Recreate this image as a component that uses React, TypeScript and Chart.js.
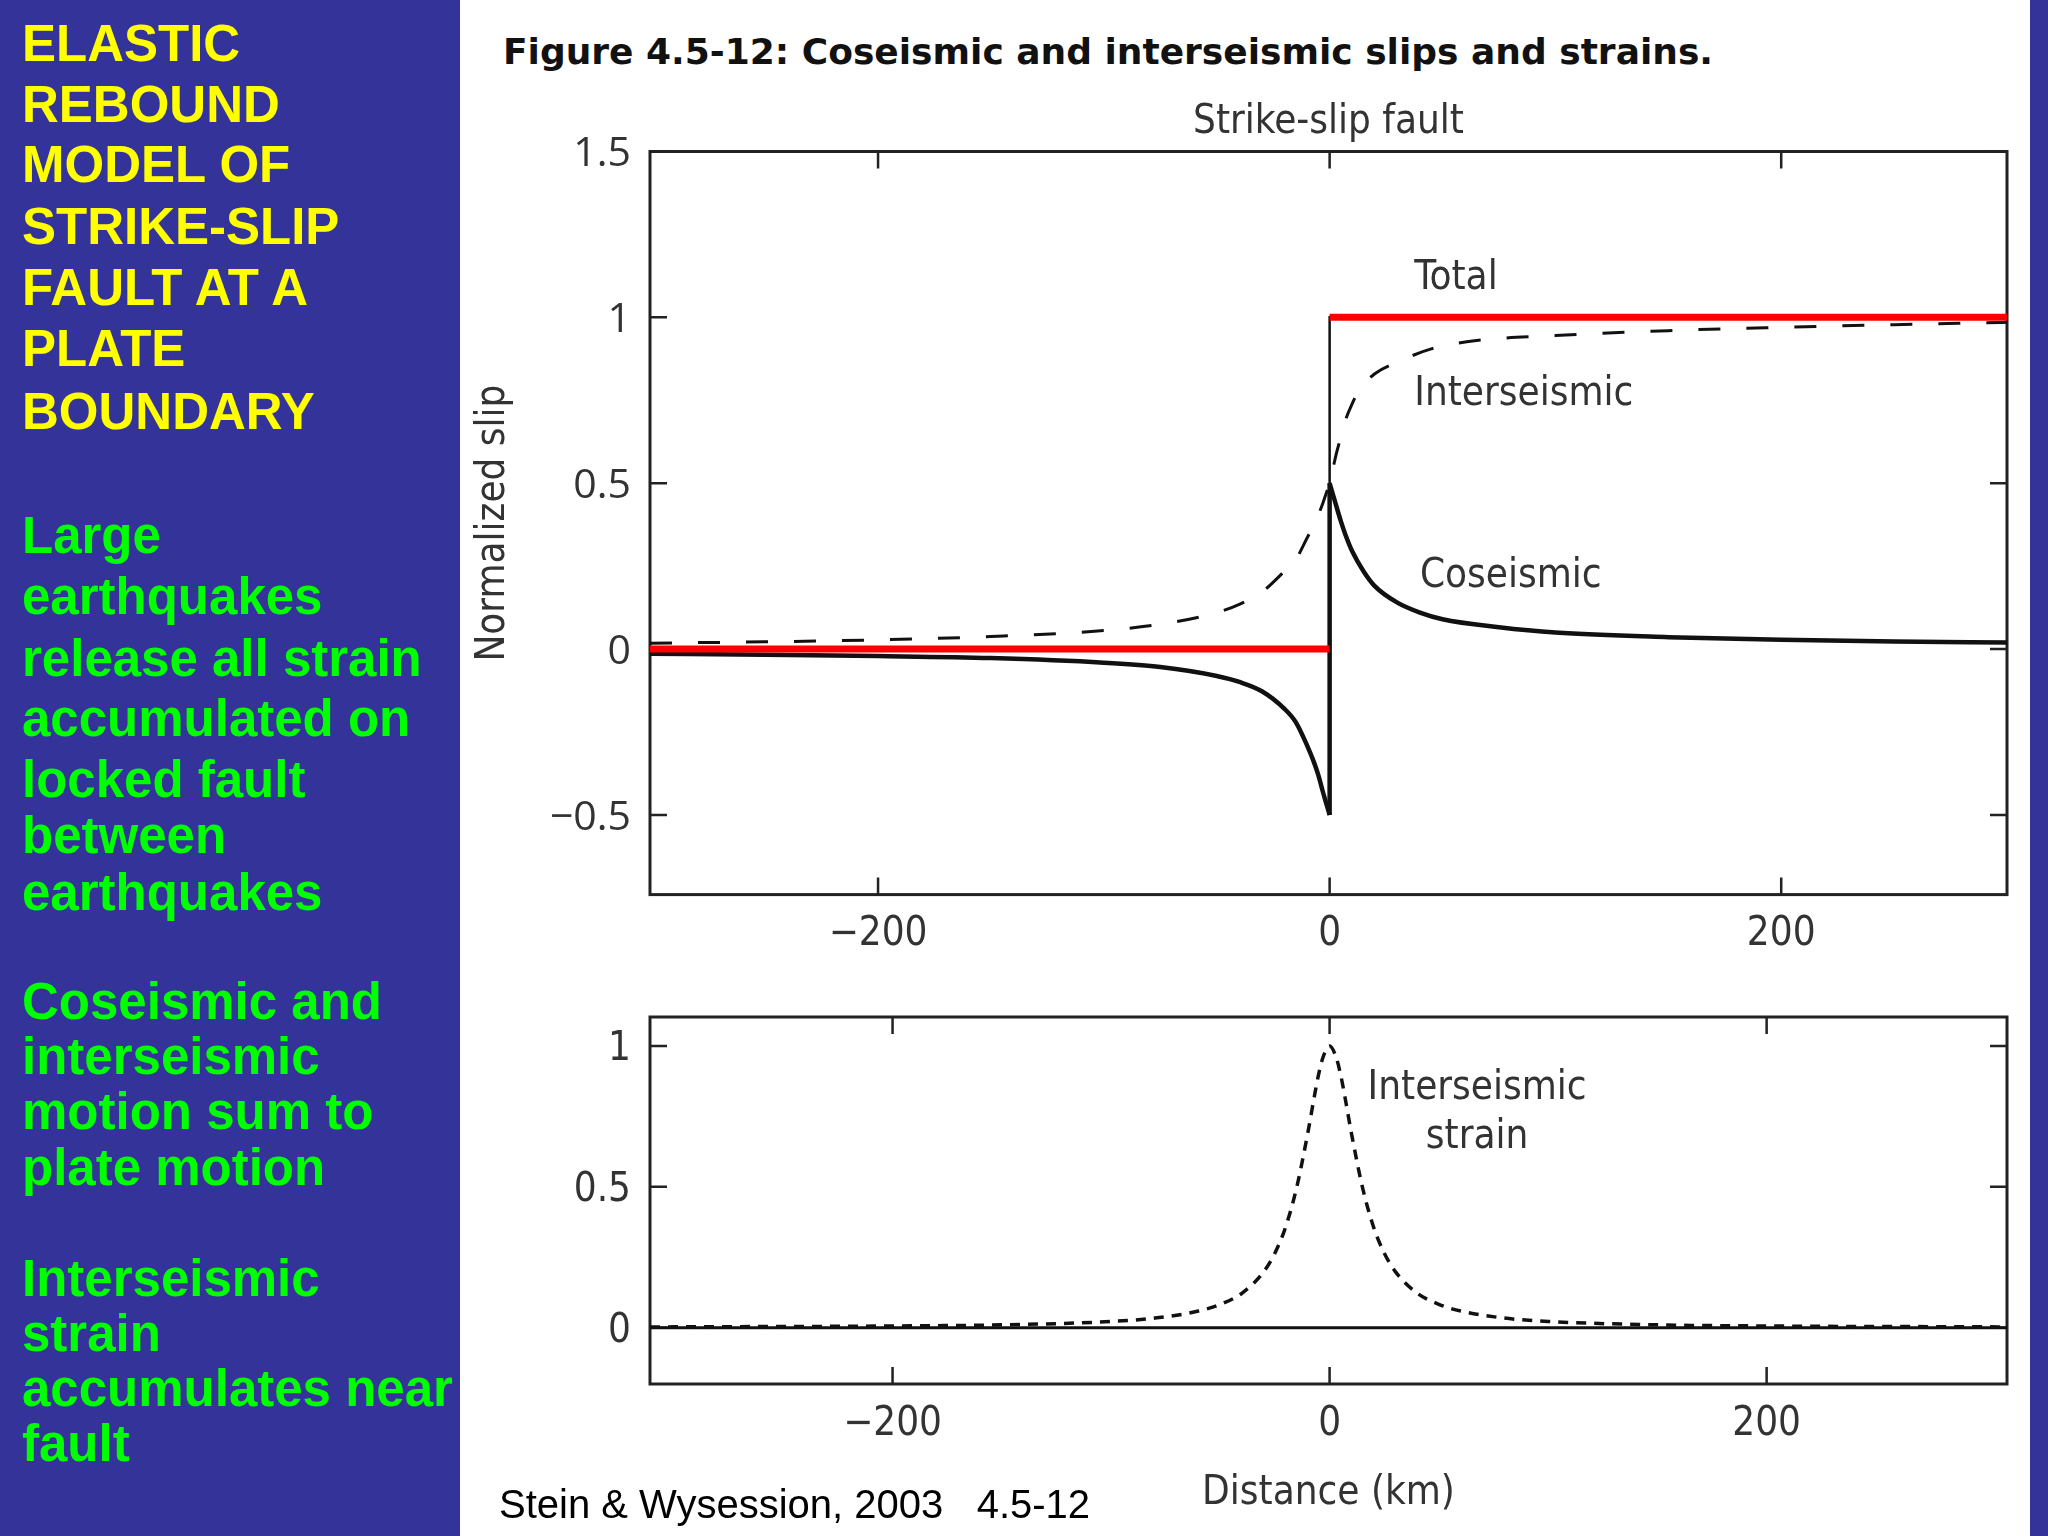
import React, { useEffect, useRef } from 'react';
import { Chart, registerables } from 'chart.js';

Chart.register(...registerables);

// ---------- data ----------
// Top panel: normalized slip vs distance (km)
const plateDistance = [-301, 0, 0, 300];
const plateMotion = [0, 0, 1, 1];

const coseismicDistanceWest = [-301, -250, -200, -150, -100, -75, -50, -40, -30, -20, -15, -10, -7, -5, -3, -1.5, 0];
const coseismicSlipWest = [-0.014, -0.017, -0.021, -0.027, -0.041, -0.054, -0.081, -0.099, -0.127, -0.18, -0.22, -0.29, -0.34, -0.38, -0.43, -0.465, -0.5];
const coseismicDistanceEast = [0, 1.5, 3, 5, 7, 10, 15, 20, 30, 40, 50, 75, 100, 150, 200, 250, 300];
const coseismicSlipEast = [0.5, 0.465, 0.43, 0.385, 0.345, 0.295, 0.235, 0.19, 0.14, 0.11, 0.09, 0.066, 0.05, 0.036, 0.028, 0.023, 0.02];

const interseismicDistance = [-301, -250, -200, -150, -100, -75, -50, -40, -30, -20, -15, -10, -7, -5, -3, -1.5, 0, 1.5, 3, 5, 7, 10, 13, 20, 30, 45, 65, 100, 150, 200, 250, 300];
const interseismicSlip = [0.018, 0.022, 0.028, 0.038, 0.056, 0.075, 0.11, 0.135, 0.172, 0.235, 0.27, 0.335, 0.375, 0.405, 0.44, 0.47, 0.5, 0.545, 0.59, 0.64, 0.69, 0.74, 0.78, 0.83, 0.865, 0.905, 0.93, 0.945, 0.96, 0.97, 0.978, 0.985];

const slipTicks = [-0.5, 0, 0.5, 1, 1.5];
const distanceTicks = [-200, 0, 200];

// Bottom panel: interseismic strain
const strainDistance = [-311, -300, -250, -200, -150, -100, -80, -60, -50, -40, -30, -25, -20, -15, -10, -7, -5, -3, 0, 3, 5, 7, 10, 15, 20, 25, 30, 40, 50, 60, 80, 100, 150, 200, 250, 300, 310];
const interseismicStrain = [0.002, 0.003, 0.004, 0.006, 0.01, 0.022, 0.034, 0.059, 0.083, 0.123, 0.2, 0.265, 0.36, 0.5, 0.69, 0.82, 0.9, 0.96, 1.0, 0.96, 0.9, 0.82, 0.69, 0.5, 0.36, 0.265, 0.2, 0.123, 0.083, 0.059, 0.034, 0.022, 0.01, 0.006, 0.004, 0.003, 0.002];
const zeroDistance = [-311, 310];
const zeroLevel = [0, 0];
const strainTicks = [0, 0.5, 1];

// Curve labels (text, data x, data y)
const slipLabelText = ['Total', 'Interseismic', 'Coseismic'];
const slipLabelX = [37.5, 37.5, 40];
const slipLabelY = [1.118, 0.768, 0.22];
const strainLabelText = ['Interseismic', 'strain'];
const strainLabelX = [67.5, 67.5];
const strainLabelY = [0.847, 0.675];

// Slide text
const slideTitleLines = ['ELASTIC', 'REBOUND', 'MODEL OF', 'STRIKE-SLIP', 'FAULT AT A', 'PLATE', 'BOUNDARY'];
const slideTitleCenters = [43, 104.5, 164.6, 226, 287.3, 348.7, 411.4];
const bulletLines = [
  'Large', 'earthquakes', 'release all strain', 'accumulated on', 'locked fault', 'between', 'earthquakes',
  'Coseismic and', 'interseismic', 'motion sum to', 'plate motion',
  'Interseismic', 'strain', 'accumulates near', 'fault',
];
const bulletCenters = [535.5, 596.8, 658.2, 718.3, 779.7, 835.8, 892, 1001.7, 1056.6, 1111.4, 1167.6, 1278.6, 1333.4, 1388.3, 1443.1];

// ---------- helpers ----------
const NARROW = "'DejaVu Sans Condensed', 'Liberation Sans Narrow', 'DejaVu Sans', sans-serif";
const INK = '#333333';
const LINE = '#111111';

const pts = (xs: number[], ys: number[]) => xs.map((x, i) => ({ x, y: ys[i] }));
const fmt = (v: number) => (v < 0 ? '\u2212' + String(Math.abs(v)) : String(v));
const setTicks = (values: number[]) => (s: any) => { s.ticks = values.map((value) => ({ value })); };

const framePlugin = {
  id: 'frameTicks',
  beforeDatasetsDraw(chart: any) {
    const { ctx, chartArea: a, scales } = chart;
    const L = 17;
    ctx.save();
    ctx.strokeStyle = '#222222';
    ctx.lineWidth = 3;
    ctx.strokeRect(a.left, a.top, a.right - a.left, a.bottom - a.top);
    ctx.lineWidth = 2.5;
    ctx.beginPath();
    for (const t of scales.x.ticks) {
      const px = scales.x.getPixelForValue(t.value);
      ctx.moveTo(px, a.top);
      ctx.lineTo(px, a.top + L);
      ctx.moveTo(px, a.bottom);
      ctx.lineTo(px, a.bottom - L);
    }
    for (const t of scales.y.ticks) {
      const py = scales.y.getPixelForValue(t.value);
      ctx.moveTo(a.left, py);
      ctx.lineTo(a.left + L, py);
      ctx.moveTo(a.right, py);
      ctx.lineTo(a.right - L, py);
    }
    ctx.stroke();
    ctx.restore();
  },
};

const makeLabelPlugin = (texts: string[], xs: number[], ys: number[], align: string) => ({
  id: 'curveLabels',
  afterDatasetsDraw(chart: any) {
    const { ctx, scales } = chart;
    ctx.save();
    ctx.fillStyle = INK;
    ctx.font = `40px ${NARROW}`;
    ctx.textBaseline = 'middle';
    ctx.textAlign = align;
    texts.forEach((t, i) => {
      ctx.fillText(t, scales.x.getPixelForValue(xs[i]), scales.y.getPixelForValue(ys[i]));
    });
    ctx.restore();
  },
});

const narrowFont = (size: number, lineHeight = 1.2) => ({ family: NARROW, size, weight: 'normal' as const, lineHeight });

const fitX = (h: number) => (s: any) => { s.height = h; s.paddingLeft = 0; s.paddingRight = 0; };
const fitY = (w: number) => (s: any) => { s.width = w; s.paddingTop = 0; s.paddingBottom = 0; };

function topConfig(): any {
  return {
    type: 'line',
    data: {
      datasets: [
        {
          label: 'Total (plate motion)',
          data: pts(plateDistance, plateMotion),
          borderColor: '#ff0000',
          borderWidth: 7,
          pointRadius: 0,
          segment: {
            borderColor: (c: any) => (c.p0.parsed.x === c.p1.parsed.x ? 'rgba(0,0,0,0)' : '#ff0000'),
          },
          order: 0,
        },
        {
          label: 'Coseismic (west)',
          data: pts(coseismicDistanceWest, coseismicSlipWest),
          borderColor: LINE,
          borderWidth: 4.5,
          pointRadius: 0,
          cubicInterpolationMode: 'monotone',
          order: 1,
        },
        {
          label: 'Coseismic (east)',
          data: pts(coseismicDistanceEast, coseismicSlipEast),
          borderColor: LINE,
          borderWidth: 4.5,
          pointRadius: 0,
          cubicInterpolationMode: 'monotone',
          order: 1,
        },
        {
          label: 'Coseismic offset',
          data: [
            { x: coseismicDistanceWest[coseismicDistanceWest.length - 1], y: coseismicSlipWest[coseismicSlipWest.length - 1] },
            { x: coseismicDistanceEast[0], y: coseismicSlipEast[0] },
          ],
          borderColor: LINE,
          borderWidth: 4.5,
          pointRadius: 0,
          order: 1,
        },
        {
          label: 'Interseismic',
          data: pts(interseismicDistance, interseismicSlip),
          borderColor: LINE,
          borderWidth: 3,
          borderDash: [22, 26],
          pointRadius: 0,
          cubicInterpolationMode: 'monotone',
          order: 2,
        },
        {
          label: 'Total',
          data: pts(plateDistance, plateMotion),
          borderColor: LINE,
          borderWidth: 2.5,
          pointRadius: 0,
          order: 3,
        },
      ],
    },
    options: {
      animation: false,
      responsive: false,
      devicePixelRatio: 1,
      layout: { padding: { left: 0, right: 23, top: 0, bottom: 0 } },
      plugins: {
        legend: { display: false },
        tooltip: { enabled: false },
        title: {
          display: true,
          fullSize: false,
          text: 'Strike-slip fault',
          color: INK,
          font: narrowFont(40),
          padding: { top: 39, bottom: 4.5 },
        },
      },
      scales: {
        x: {
          type: 'linear',
          min: -301,
          max: 300,
          border: { display: false },
          grid: { display: false, drawTicks: false },
          afterBuildTicks: setTicks(distanceTicks),
          ticks: {
            autoSkip: false,
            maxRotation: 0,
            padding: 16.4,
            color: INK,
            font: narrowFont(40),
            callback: (v: number) => fmt(v),
          },
          afterFit: fitX(85.4),
        },
        y: {
          type: 'linear',
          min: -0.74,
          max: 1.5,
          border: { display: false },
          grid: { display: false, drawTicks: false },
          afterBuildTicks: setTicks(slipTicks),
          ticks: {
            padding: 19,
            labelOffset: 3,
            color: INK,
            font: { family: "'Open Sans', 'DejaVu Sans', sans-serif", size: 41, lineHeight: 1.2 },
            callback: (v: number) => fmt(v),
          },
          title: {
            display: true,
            text: 'Normalized slip',
            color: INK,
            font: narrowFont(40, 1),
            padding: { top: 4, bottom: 0 },
          },
          afterFit: fitY(180),
        },
      },
    },
    plugins: [framePlugin, makeLabelPlugin(slipLabelText, slipLabelX, slipLabelY, 'left')],
  };
}

function bottomConfig(): any {
  return {
    type: 'line',
    data: {
      datasets: [
        {
          label: 'Interseismic strain',
          data: pts(strainDistance, interseismicStrain),
          borderColor: LINE,
          borderWidth: 3.5,
          borderDash: [10, 8],
          pointRadius: 0,
          cubicInterpolationMode: 'monotone',
          order: 0,
        },
        {
          label: 'Zero',
          data: pts(zeroDistance, zeroLevel),
          borderColor: LINE,
          borderWidth: 3,
          pointRadius: 0,
          order: 1,
        },
      ],
    },
    options: {
      animation: false,
      responsive: false,
      devicePixelRatio: 1,
      layout: { padding: { left: 0, right: 23, top: 32, bottom: 0 } },
      plugins: {
        legend: { display: false },
        tooltip: { enabled: false },
        title: { display: false },
      },
      scales: {
        x: {
          type: 'linear',
          min: -311,
          max: 310,
          border: { display: false },
          grid: { display: false, drawTicks: false },
          afterBuildTicks: setTicks(distanceTicks),
          ticks: {
            autoSkip: false,
            maxRotation: 0,
            padding: 17,
            color: INK,
            font: narrowFont(40),
            callback: (v: number) => fmt(v),
          },
          title: {
            display: true,
            text: 'Distance (km)',
            color: INK,
            font: narrowFont(40),
            padding: { top: 0, bottom: 18 },
          },
          afterFit: fitX(152),
        },
        y: {
          type: 'linear',
          min: -0.2,
          max: 1.103,
          border: { display: false },
          grid: { display: false, drawTicks: false },
          afterBuildTicks: setTicks(strainTicks),
          ticks: {
            padding: 19,
            labelOffset: 4,
            color: INK,
            font: narrowFont(40),
            callback: (v: number) => fmt(v),
          },
          afterFit: fitY(180),
        },
      },
    },
    plugins: [framePlugin, makeLabelPlugin(strainLabelText, strainLabelX, strainLabelY, 'center')],
  };
}

function ChartCanvas({ makeConfig, left, top, width, height }: any) {
  const ref = useRef<HTMLCanvasElement | null>(null);
  useEffect(() => {
    if (!ref.current) return;
    const chart = new Chart(ref.current, makeConfig());
    return () => chart.destroy();
  }, []);
  return (
    <canvas
      ref={ref}
      width={width}
      height={height}
      style={{ position: 'absolute', left, top, width, height }}
    />
  );
}

export default function App() {
  const BLUE = '#333399';
  const sideFont = "'Liberation Sans', Arial, sans-serif";
  return (
    <div style={{ position: 'absolute', left: 0, top: 0, width: 2048, height: 1536, background: '#ffffff', overflow: 'hidden' }}>
      <div style={{ position: 'absolute', left: 0, top: 0, width: 460, height: 1536, background: BLUE }} />
      <div style={{ position: 'absolute', left: 2030, top: 0, width: 18, height: 1536, background: BLUE }} />

      {slideTitleLines.map((t, i) => (
        <div key={'t' + i} style={{ position: 'absolute', left: 22, top: slideTitleCenters[i] - 25.5, height: 51, lineHeight: '51px', fontFamily: sideFont, fontWeight: 700, fontSize: 51, color: '#ffff00', whiteSpace: 'pre' }}>{t}</div>
      ))}
      {bulletLines.map((t, i) => (
        <div key={'b' + i} style={{ position: 'absolute', left: 22, top: bulletCenters[i] - 25.5, height: 51, lineHeight: '51px', fontFamily: sideFont, fontWeight: 700, fontSize: 51, color: '#00ff00', whiteSpace: 'pre' }}>{t}</div>
      ))}

      <div style={{ position: 'absolute', left: 503, top: 34, lineHeight: '36px', fontFamily: "'DejaVu Sans', sans-serif", fontWeight: 700, fontSize: 36, color: '#111111', whiteSpace: 'pre' }}>
        Figure 4.5-12: Coseismic and interseismic slips and strains.
      </div>

      <ChartCanvas makeConfig={topConfig} left={470} top={60} width={1560} height={920} />
      <ChartCanvas makeConfig={bottomConfig} left={470} top={985} width={1560} height={551} />

      <div style={{ position: 'absolute', left: 499, top: 1483.5, lineHeight: '40px', fontFamily: sideFont, fontSize: 40, color: '#000000', whiteSpace: 'pre' }}>
        {'Stein & Wysession, 2003   4.5-12'}
      </div>
    </div>
  );
}
